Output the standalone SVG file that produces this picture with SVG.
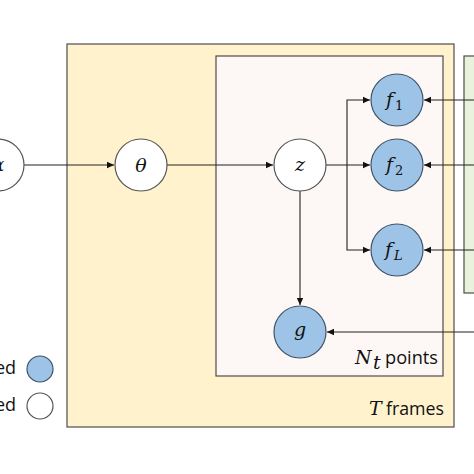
<svg xmlns="http://www.w3.org/2000/svg" width="474" height="474" viewBox="0 0 474 474">
<style>
.box{stroke:#4d4d4d;stroke-width:1.2}
.node{stroke:#555;stroke-width:1.2;fill:#fff}
.obs{fill:#9dc3e6;stroke:#3f5368;stroke-width:1.2}
.edge{stroke:#222;stroke-width:1.1;fill:none}
.math{font-family:"DejaVu Serif","Liberation Serif",serif;font-style:italic;font-size:19px;fill:#111}
.sub{font-family:"DejaVu Serif","Liberation Serif",serif;font-size:13px;fill:#111}
.lbl{font-family:"Open Sans","Liberation Sans",sans-serif;font-size:18px;fill:#111}
</style>
<defs>
<marker id="ah" markerWidth="8" markerHeight="8" refX="7" refY="4" orient="auto" markerUnits="userSpaceOnUse">
<path d="M0,0.8 L7,4 L0,7.2 Z" fill="#111"/>
</marker>
</defs>
<rect width="474" height="474" fill="#fff"/>
<g id="plate-frames">
<rect class="box" x="67" y="44" width="387" height="383" fill="#fff2cc"/>
<text class="math" x="369" y="415">T</text>
<text class="lbl" x="386" y="415" textLength="58" lengthAdjust="spacingAndGlyphs">frames</text>
</g>
<g id="plate-points">
<rect class="box" x="216" y="56" width="227" height="320" fill="#fdf8f5"/>
<text class="math" x="355" y="364">N</text>
<text class="math" x="373" y="369" font-size="13">t</text>
<text class="lbl" x="385" y="364" textLength="53" lengthAdjust="spacingAndGlyphs">points</text>
</g>
<g id="side-box">
<rect class="box" x="464" y="56" width="20" height="237" fill="#e8f2dd"/>
</g>
<g id="connectors">
<line class="edge" x1="24" y1="165" x2="114" y2="165" marker-end="url(#ah)"/>
<line class="edge" x1="167" y1="165" x2="273" y2="165" marker-end="url(#ah)"/>
<line class="edge" x1="326" y1="165" x2="370" y2="165" marker-end="url(#ah)"/>
<polyline class="edge" points="347,165 347,100 370,100" marker-end="url(#ah)"/>
<polyline class="edge" points="347,165 347,250 370,250" marker-end="url(#ah)"/>
<line class="edge" x1="300" y1="191" x2="300" y2="305" marker-end="url(#ah)"/>
<line class="edge" x1="474" y1="100" x2="424" y2="100" marker-end="url(#ah)"/>
<line class="edge" x1="474" y1="165" x2="424" y2="165" marker-end="url(#ah)"/>
<line class="edge" x1="474" y1="250" x2="424" y2="250" marker-end="url(#ah)"/>
<line class="edge" x1="474" y1="332" x2="327" y2="332" marker-end="url(#ah)"/>
</g>
<g id="node-alpha">
<circle class="node" cx="-2" cy="165" r="26"/>
<text class="math" x="-2" y="171" text-anchor="middle">α</text>
</g>
<g id="node-theta">
<circle class="node" cx="141" cy="165" r="26"/>
<text class="math" x="141" y="172" text-anchor="middle">θ</text>
</g>
<g id="node-z">
<circle class="node" cx="300" cy="165" r="26"/>
<text class="math" x="300" y="171" text-anchor="middle">z</text>
</g>
<g id="node-f1">
<circle class="obs" cx="397" cy="100" r="26"/>
<text class="math" x="386" y="106">f</text><text class="sub" x="395" y="110">1</text>
</g>
<g id="node-f2">
<circle class="obs" cx="397" cy="165" r="26"/>
<text class="math" x="386" y="171">f</text><text class="sub" x="395" y="175">2</text>
</g>
<g id="node-fL">
<circle class="obs" cx="397" cy="250" r="26"/>
<text class="math" x="385" y="256">f</text><text class="sub" x="394" y="260" font-style="italic">L</text>
</g>
<g id="node-g">
<circle class="obs" cx="300" cy="332" r="26"/>
<text class="math" x="300" y="336" text-anchor="middle">g</text>
</g>
<g id="legend">
<text class="lbl" x="16" y="374" text-anchor="end" font-size="17">Observed</text>
<circle class="obs" cx="40" cy="369" r="13"/>
<text class="lbl" x="16" y="411" text-anchor="end" font-size="17">Unobserved</text>
<circle class="node" cx="40" cy="406" r="13"/>
</g>
</svg>
